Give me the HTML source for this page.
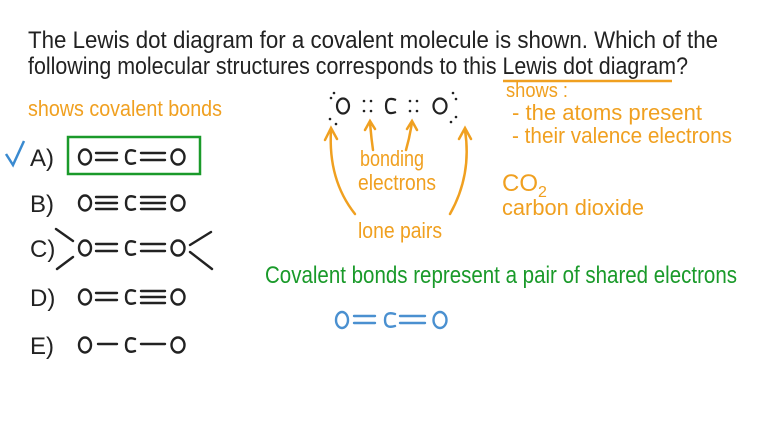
<!DOCTYPE html>
<html><head><meta charset="utf-8"><style>
html,body{margin:0;padding:0;background:#fff;}
svg{display:block;}
text{font-family:"Liberation Sans",sans-serif;}
</style></head><body>
<svg width="760" height="427" viewBox="0 0 760 427" xmlns="http://www.w3.org/2000/svg">
<g fill="#222" font-size="24">
<text x="28" y="48" textLength="690" lengthAdjust="spacingAndGlyphs">The Lewis dot diagram for a covalent molecule is shown. Which of the</text>
<text x="28" y="74" textLength="660" lengthAdjust="spacingAndGlyphs">following molecular structures corresponds to this Lewis dot diagram?</text>
</g>
<line x1="503" y1="81" x2="672" y2="81" stroke="#f0a020" stroke-width="2.5"/>
<g fill="#f0a020">
<text x="28" y="116" font-size="22" textLength="194" lengthAdjust="spacingAndGlyphs">shows covalent bonds</text>
<text x="506" y="97" font-size="20" textLength="62" lengthAdjust="spacingAndGlyphs">shows :</text>
<text x="512" y="120" font-size="22" textLength="190" lengthAdjust="spacingAndGlyphs">- the atoms present</text>
<text x="512" y="143" font-size="22" textLength="220" lengthAdjust="spacingAndGlyphs">- their valence electrons</text>
<text x="502" y="191" font-size="24">CO<tspan font-size="16" dy="6">2</tspan></text>
<text x="502" y="215" font-size="22" textLength="142" lengthAdjust="spacingAndGlyphs">carbon dioxide</text>
<text x="360" y="166" font-size="22" textLength="64" lengthAdjust="spacingAndGlyphs">bonding</text>
<text x="358" y="190" font-size="22" textLength="78" lengthAdjust="spacingAndGlyphs">electrons</text>
<text x="358" y="238" font-size="22" textLength="84" lengthAdjust="spacingAndGlyphs">lone pairs</text>
</g>
<g fill="none" stroke="#f0a020" stroke-width="2.5" stroke-linecap="round">
<path d="M355 214 Q328 180 331 130"/><path d="M325 140 L331 128 L337 139"/>
<path d="M373 150 Q371 136 370 122"/><path d="M365 130 L370 121 L375 129"/>
<path d="M406 150 Q410 136 412 122"/><path d="M407 129 L412 121 L417 130"/>
<path d="M450 214 Q472 175 465 130"/><path d="M459 139 L465 128 L471 139"/>
</g>
<g fill="none" stroke="#222" stroke-width="2.2">
<ellipse cx="343" cy="106" rx="6" ry="7.5"/>
<path d="M396 100 Q386 96 386 106 Q386 116 396 112"/>
<ellipse cx="440" cy="106" rx="6.5" ry="7.5"/>
</g>
<g fill="#222">
<circle cx="331" cy="98" r="1.3"/><circle cx="330" cy="119" r="1.3"/><circle cx="336" cy="124" r="1.3"/><circle cx="334" cy="93" r="1.3"/>
<circle cx="364" cy="101" r="1.3"/><circle cx="371" cy="101" r="1.3"/><circle cx="364" cy="111" r="1.3"/><circle cx="371" cy="111" r="1.3"/>
<circle cx="410" cy="101" r="1.3"/><circle cx="417" cy="101" r="1.3"/><circle cx="410" cy="111" r="1.3"/><circle cx="417" cy="111" r="1.3"/>
<circle cx="453" cy="93" r="1.3"/><circle cx="456" cy="99" r="1.3"/><circle cx="451" cy="122" r="1.3"/><circle cx="456" cy="117" r="1.3"/>
</g>
<g fill="#222" font-size="24">
<text x="30" y="166">A)</text><text x="30" y="212">B)</text><text x="30" y="257">C)</text><text x="30" y="306">D)</text><text x="30" y="354">E)</text>
</g>
<path d="M6 154 L13 165 L24 141" fill="none" stroke="#3a8ad0" stroke-width="2.5"/>
<rect x="68" y="137" width="132" height="37" fill="none" stroke="#1a9a2a" stroke-width="2.5"/>
<g fill="none" stroke="#222" stroke-width="2.4" stroke-linecap="round">
<ellipse cx="85" cy="157" rx="6" ry="7.5"/><path d="M135 151 Q126 148 126 157 Q126 166 135 163"/><ellipse cx="178" cy="157" rx="6.5" ry="7.5"/>
<path d="M96 153H117M96 160H117M141 153H165M141 160H165"/>
<ellipse cx="85" cy="203" rx="6" ry="7.5"/><path d="M135 197 Q126 194 126 203 Q126 212 135 209"/><ellipse cx="178" cy="203" rx="6.5" ry="7.5"/>
<path d="M96 197H117M96 203H117M96 209H117M141 197H165M141 203H165M141 209H165"/>
<ellipse cx="85" cy="248" rx="6" ry="7.5"/><path d="M135 242 Q126 239 126 248 Q126 257 135 254"/><ellipse cx="178" cy="248" rx="6.5" ry="7.5"/>
<path d="M96 244H117M96 251H117M141 244H165M141 251H165"/>
<path d="M56 229L73 241M57 269L73 257M190 245L211 232M190 252L212 269"/>
<ellipse cx="85" cy="297" rx="6" ry="7.5"/><path d="M135 291 Q126 288 126 297 Q126 306 135 303"/><ellipse cx="178" cy="297" rx="6.5" ry="7.5"/>
<path d="M96 293H117M96 300H117M141 291H165M141 297H165M141 303H165"/>
<ellipse cx="85" cy="345" rx="6" ry="7.5"/><path d="M135 339 Q126 336 126 345 Q126 354 135 351"/><ellipse cx="178" cy="345" rx="6.5" ry="7.5"/>
<path d="M98 344H117M141 344H165"/>
</g>
<text x="265" y="283" fill="#1a9a2a" font-size="24" textLength="472" lengthAdjust="spacingAndGlyphs">Covalent bonds represent a pair of shared electrons</text>
<g fill="none" stroke="#4a90d0" stroke-width="2.4" stroke-linecap="round">
<ellipse cx="342" cy="320" rx="6" ry="8"/><path d="M395 314 Q385 311 385 320 Q385 329 395 326"/><ellipse cx="440" cy="320" rx="6.5" ry="8"/>
<path d="M354 316H375M354 323H375M400 316H425M400 323H425"/>
</g>
</svg>
</body></html>
